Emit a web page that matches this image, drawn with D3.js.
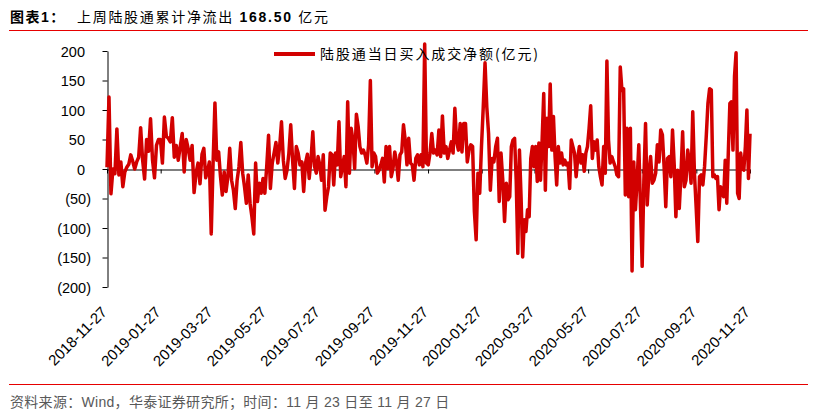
<!DOCTYPE html>
<html>
<head>
<meta charset="utf-8">
<script src="https://cdn.jsdelivr.net/npm/d3@7"></script>
<style>
  body { margin: 0; background: #fff; }
  svg { display: block; }
</style>
</head>
<body>
<div id="chart"></div>
<script>
// daily net buy (亿元) in chunks; each chunk spans the dates in segStarts
var segStarts = ["2018-11-27", "2019-03-15", "2019-07-17", "2019-11-05", "2020-02-26", "2020-06-21", "2020-10-14", "2020-11-27"];

var seg1 = [3, 122, -42, 0, -8, 68, -10, 12, -30, -5, 3, 8, 24, 13, 0, 12, 20, 70, 15, -17, 50, 30, 85, 15, -15, 40, 50, 50, 10, 88, 55, 52, 46, 87, 20, 40, 15, 38, 60, -5, 50, 35, 15, 40, -40, -7, 10, -25];
var seg2 = [25, 35, -15, -4, 12, -110, 10, 112, 15, 29, -13, -44, -5, -38, -13, 35, -19, -36, -67, -19, 4, 45, -7, -30, -58, -10, -58, -81, -110, 10, -55, -24, -41, -16, -41, 4, 57, -33, 10, 27, 45, 10, 38, 80, 15, -16, -2, 27, 75, 15, -33, 38, 27, 7, 12, -38, 10, 25, -16];
var seg3 = [18, 63, 4, -7, 21, 7, -19, 24, -70, -47, -30, 27, 24, -27, 27, 7, 80, -13, 4, 21, -30, 114, -7, 69, 49, 1, 93, 72, 38, 27, 32, 24, 10, 41, 150, 4, 27, 21, -7, -2, 7, 18, -22, 38, 1, 38, -13, 1, 29, 12, -19, 24, 29, 75, 49, 7];
var seg4 = [52, 10, 7, -19, 18, 24, 7, 24, 4, 212, 10, 7, 27, 60, 27, 32, 24, 66, 21, 90, 27, 38, 18, 32, 46, 27, 103, 46, 32, 77, 29, 77, 77, 12, 32, 41, 38, -72, -120, -7, -41, 38, 105, 180, 105, 60, -36, 18, 12, 38, 52, -55, 27, -19, -89, -24];
var seg5 = [-52, -47, 38, 49, 52, -19, -143, 32, -47, -149, -86, -106, -69, -81, 18, 38, 4, 38, -21, 44, -19, 49, 128, -36, 86, 38, 144, 32, 89, 21, -27, 38, 10, 27, 7, 15, 7, 10, -33, 49, 38, 27, -13, 18, 38, 10, 24, -4, 27, 38, 69, 107, 18, 46, 32, 49, 4, -13, -27, 38, -7, 183, 49];
var seg6 = [10, 21, 12, 4, -10, -13, 173, 133, 136, -44, 69, -47, 69, -173, 12, -69, -19, 41, -64, -165, -19, 77, -61, -7, 21, -24, -19, -7, 41, 12, 66, 58, 4, -64, 18, 21, -13, 66, 7, -81, -2, -67, -10, 63, -30, -19, 32, 12, -24, 97, -7, -64, -123, -13, -10, -27, 4, 55, 111, 136];
var seg7 = [134, -13, -10, -16, -13, -69, -30, -41, -47, 15, -58, 29, 111, 114, 32, 157, 197, -41, -50, 27, 1, -2, 38, 100, -16, 60];

var yTicks = [200, 150, 100, 50, 0, -50, -100, -150, -200];
var xTickLabels = ["2018-11-27", "2019-01-27", "2019-03-27", "2019-05-27", "2019-07-27", "2019-09-27",
                   "2019-11-27", "2020-01-27", "2020-03-27", "2020-05-27", "2020-07-27", "2020-09-27", "2020-11-27"];

var seriesName = "陆股通当日买入成交净额(亿元)";
var titleHead = "图表1：";
var titleBody = "上周陆股通累计净流出 ";
var titleNum = "168.50";
var titleUnit = " 亿元";
var sourceText = "资料来源：Wind，华泰证券研究所；时间：11 月 23 日至 11 月 27 日";

var W = 816, H = 414;
var red = "#d20000";
var font = "'Liberation Sans', Arial, 'Noto Sans CJK SC', sans-serif";

var parse = d3.timeParse("%Y-%m-%d");

// build the dated series
var segs = [seg1, seg2, seg3, seg4, seg5, seg6, seg7];
var data = [];
segs.forEach(function(seg, k) {
    var t0 = parse(segStarts[k]).getTime(), t1 = parse(segStarts[k + 1]).getTime();
    var last = (k == segs.length - 1);
    seg.forEach(function(v, i) {
        var f = last ? i / (seg.length - 1) : i / seg.length;
        data.push({date: new Date(t0 + f * (t1 - t0)), value: v});
    });
});

var svg = d3.select("#chart").append("svg")
    .attr("width", W).attr("height", H)
    .style("font-family", font);

// title
svg.append("text").attr("x", 10).attr("y", 22)
    .style("font-size", "14px").style("font-weight", "bold").style("letter-spacing", "1.5px")
    .text(titleHead);
var tt = svg.append("text").attr("x", 77).attr("y", 22)
    .style("font-size", "14px").style("letter-spacing", "1.7px");
tt.append("tspan").text(titleBody);
tt.append("tspan").style("font-weight", "bold").text(titleNum);
tt.append("tspan").text(titleUnit);

svg.append("line").attr("x1", 9).attr("x2", 808).attr("y1", 30.5).attr("y2", 30.5)
    .attr("stroke", "#e60000").attr("stroke-width", 1);

// scales
var x = d3.scaleTime()
    .domain([parse(xTickLabels[0]), parse(xTickLabels[xTickLabels.length - 1])])
    .range([107, 750]);
var y = d3.scaleLinear().domain([-200, 200]).range([287, 51]);

// y axis
var yAxis = d3.axisLeft(y).tickValues(yTicks).tickSize(5).tickSizeOuter(0)
    .tickFormat(function(d) { return d < 0 ? "(" + Math.abs(d) + ")" : d; });
var gy = svg.append("g").attr("transform", "translate(107.5,0)").call(yAxis);
gy.select(".domain").attr("stroke", "#000");
gy.selectAll("line").attr("stroke", "#000");
gy.selectAll("text")
    .style("font-size", "14.5px").style("font-family", font).attr("fill", "#000")
    .attr("x", function(d) { return d < 0 ? -16.5 : -22.5; })
    .attr("dy", "0.36em");

// zero line with date ticks
var xAxis = d3.axisBottom(x).tickValues(xTickLabels.map(parse)).tickSize(4).tickSizeOuter(0).tickFormat("");
var gx = svg.append("g").attr("transform", "translate(0," + (y(0) + 0.5) + ")").call(xAxis);
gx.select(".domain").attr("stroke", "#000");
gx.selectAll("line").attr("stroke", "#000");

// rotated date labels at the bottom
svg.append("g").selectAll("text")
    .data(xTickLabels)
    .enter().append("text")
    .attr("transform", function(d) { return "translate(" + (x(parse(d)) + 1) + ",313) rotate(-45)"; })
    .attr("text-anchor", "end")
    .style("font-size", "15px")
    .text(function(d) { return d; });

// the series
var line = d3.line()
    .x(function(d) { return x(d.date); })
    .y(function(d) { return y(d.value); });
svg.append("path").datum(data)
    .attr("d", line)
    .attr("fill", "none")
    .attr("stroke", red)
    .attr("stroke-width", 3.5)
    .attr("stroke-linejoin", "round");

// legend
svg.append("line").attr("x1", 274).attr("x2", 315).attr("y1", 54).attr("y2", 54)
    .attr("stroke", red).attr("stroke-width", 4);
svg.append("text").attr("x", 320).attr("y", 59)
    .style("font-size", "14px").style("letter-spacing", "1.9px")
    .style("font-family", "'Noto Sans CJK SC', sans-serif")
    .text(seriesName);

// footer
svg.append("line").attr("x1", 9).attr("x2", 808).attr("y1", 384.5).attr("y2", 384.5)
    .attr("stroke", "#e60000").attr("stroke-width", 1);
svg.append("text").attr("x", 10).attr("y", 407)
    .style("font-size", "14px").style("letter-spacing", "0.3px").attr("fill", "#595959")
    .text(sourceText);
</script>
</body>
</html>
